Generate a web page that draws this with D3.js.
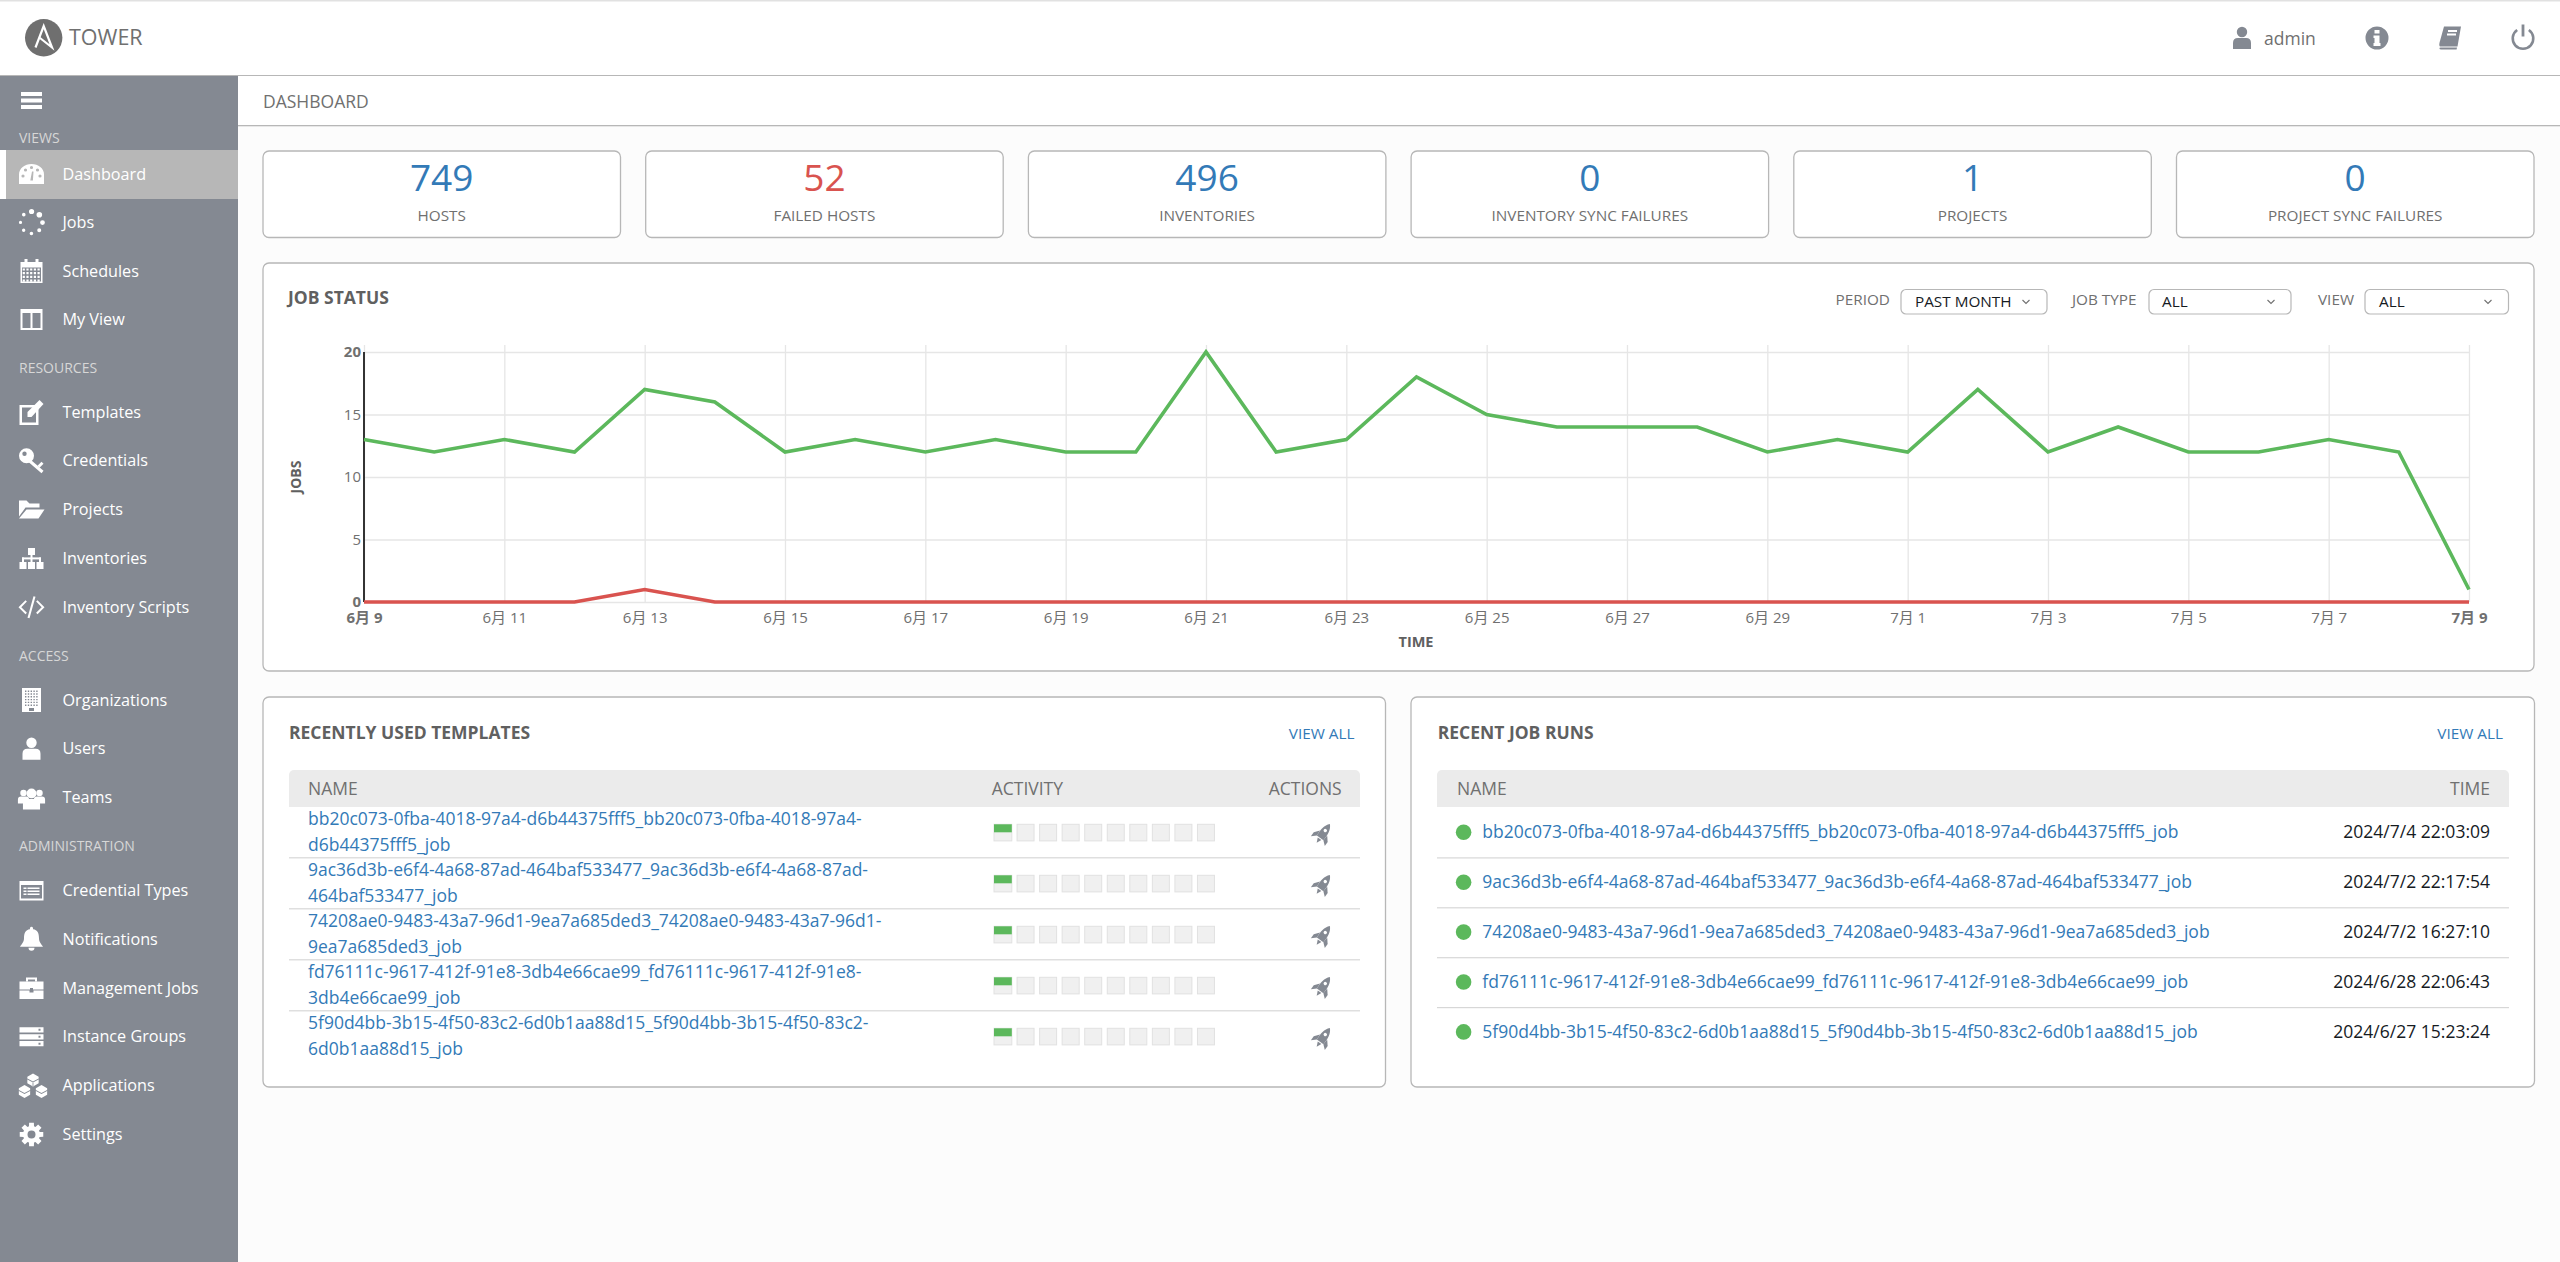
<!DOCTYPE html>
<html>
<head>
<meta charset="utf-8">
<title>Tower Dashboard</title>
<script src="https://cdn.jsdelivr.net/npm/d3@7"></script>
<style>
html, body { margin: 0; padding: 0; background: #fcfcfc; overflow: hidden; }
svg { display: block; }
text { font-family: "Open Sans", "Noto Sans CJK SC", sans-serif; fill: #707070; }
.nav { fill: #fff; font-size: 16.2px; }
.navhead { fill: #d7d7d7; font-size: 14px; }
.link { fill: #337ab7; font-size: 17.5px; }
.panel { fill: #fff; stroke: #b7b7b7; stroke-width: 1.3; }
.axis text { font-size: 15px; fill: #707070; }
.axis line { stroke: #e6e6e6; stroke-width: 1.3; }
.axis .domain { display: none; }
</style>
</head>
<body>
<div id="canvas"></div>
<script>
// chart data
var dayLabels = ["06-09", "06-10", "06-11", "06-12", "06-13", "06-14", "06-15", "06-16", "06-17", "06-18", "06-19",
    "06-20", "06-21", "06-22", "06-23", "06-24", "06-25", "06-26", "06-27", "06-28", "06-29", "06-30",
    "07-01", "07-02", "07-03", "07-04", "07-05", "07-06", "07-07", "07-08", "07-09"];
var successJobs = [13, 12, 13, 12, 17, 16, 12, 13, 12, 13, 12, 12, 20, 12, 13, 18, 15, 14, 14, 14, 12, 13, 12, 17, 12, 14, 12, 12, 13, 12, 1];
var failedJobs = [0, 0, 0, 0, 1, 0, 0, 0, 0, 0, 0, 0, 0, 0, 0, 0, 0, 0, 0, 0, 0, 0, 0, 0, 0, 0, 0, 0, 0, 0, 0];
var yTicks = [0, 5, 10, 15, 20];

var countLabels = ["HOSTS", "FAILED HOSTS", "INVENTORIES", "INVENTORY SYNC FAILURES", "PROJECTS", "PROJECT SYNC FAILURES"];
var countValues = [749, 52, 496, 0, 1, 0];

var jobIds = ["bb20c073-0fba-4018-97a4-d6b44375fff5", "9ac36d3b-e6f4-4a68-87ad-464baf533477",
    "74208ae0-9483-43a7-96d1-9ea7a685ded3", "fd76111c-9617-412f-91e8-3db4e66cae99",
    "5f90d4bb-3b15-4f50-83c2-6d0b1aa88d15"];
var jobTimes = ["2024/7/4 22:03:09", "2024/7/2 22:17:54", "2024/7/2 16:27:10", "2024/6/28 22:06:43", "2024/6/27 15:23:24"];
var activitySlots = [1, 0, 0, 0, 0, 0, 0, 0, 0, 0];

var navViews = ["Dashboard", "Jobs", "Schedules", "My View"];
var navResources = ["Templates", "Credentials", "Projects", "Inventories", "Inventory Scripts"];
var navAccess = ["Organizations", "Users", "Teams"];
var navAdmin = ["Credential Types", "Notifications", "Management Jobs", "Instance Groups", "Applications", "Settings"];

var GREY = "#848992";

// little shape helpers for the icons
function circ(x, y, r) {
    return "M" + (x - r) + " " + y + "a" + r + " " + r + " 0 1 0 " + (2 * r) + " 0a" + r + " " + r + " 0 1 0 " + (-2 * r) + " 0Z";
}
function box(x, y, w, h) {
    return "M" + x + " " + y + "h" + w + "v" + h + "h" + (-w) + "Z";
}
function person(x, y, s) {
    return "M" + (x - 9 * s) + " " + (y + 11 * s) + "v" + (-6 * s) + "q0 " + (-5 * s) + " " + (5 * s) + " " + (-5 * s) +
        "h" + (8 * s) + "q" + (5 * s) + " 0 " + (5 * s) + " " + (5 * s) + "v" + (6 * s) + "Z" + circ(x, y - 6 * s, 5.2 * s);
}
function hex(x, y, r) {
    return "M" + x + " " + (y - r) + "l" + (r * 0.87) + " " + (r * 0.5) + "v" + r + "l" + (-r * 0.87) + " " + (r * 0.5) +
        "l" + (-r * 0.87) + " " + (-r * 0.5) + "v" + (-r) + "Z";
}
function grid(x, y, cols, rows, w, step) {
    var s = "";
    d3.range(rows).forEach(function(r) {
        d3.range(cols).forEach(function(c) { s += box(x + c * step, y + r * step, w, w); });
    });
    return s;
}
function spinner() {
    var sizes = [2.6, 2.8, 2.4, 2, 1.8, 1.7, 1.6, 1.8];
    return sizes.map(function(r, i) {
        var a = i * Math.PI / 4 - Math.PI / 8 + 0.4;
        return circ(11 * Math.sin(a), -11 * Math.cos(a), r);
    }).join("");
}
function gear() {
    var pts = [];
    d3.range(8).forEach(function(i) {
        var a = i * Math.PI / 4;
        [[-0.3, 8.5], [-0.2, 12], [0.2, 12], [0.3, 8.5]].forEach(function(p) {
            pts.push((p[1] * Math.sin(a + p[0])) + " " + (-p[1] * Math.cos(a + p[0])));
        });
    });
    return "M" + pts.join("L") + "Z" + circ(0, 0, 4);
}
function power() {
    return d3.arc()({ innerRadius: 9, outerRadius: 11.6, startAngle: 0.6, endAngle: 2 * Math.PI - 0.6 }) + box(-1.4, -14, 2.8, 12);
}

var icons = {
    "bars": [box(-10.5, -8.5, 21, 4) + box(-10.5, -2, 21, 4) + box(-10.5, 4.5, 21, 4)],
    "Dashboard": ["M-12.5 9.5V0A12.5 10.5 0 0 1 12.5 0V9.5Z" + circ(-8.5, 1.5, 1.6) + circ(-6, -4.5, 1.6) + circ(0, -7, 1.6) + circ(6, -4.5, 1.6) + circ(8.5, 1.5, 1.6) + "M-1.2 6L0.5 -3L2 -3L1.4 6Z"],
    "Jobs": [spinner()],
    "Schedules": [box(-11, -9, 22, 21) + box(-9.5, -3.5, 19, 14), box(-7, -12, 3, 6) + box(4, -12, 3, 6), grid(-8.8, -2.6, 5, 4, 2.2, 3.7)],
    "My View": [box(-11, -10.5, 22, 21) + box(-9, -6.5, 8, 15) + box(1, -6.5, 8, 15)],
    "Templates": [box(-12, -7, 19, 20) + box(-9.5, -4.5, 14, 15), "M-4 5L-4 0L8 -12L12 -8L0 5Z"],
    "Credentials": [circ(-5, -5, 7.5) + circ(-7, -7, 2.2), "M-2 -2L12 10L10 12.5L-4.5 0Z", "M6 5L10 1L12 3L8 7Z"],
    "Projects": ["M-12.5 -9H-5L-2 -6H8V-2H-6L-12.5 7Z", "M-5 0H13L7 9H-12.5Z"],
    "Inventories": [box(-3.5, -10.5, 7, 7) + box(-12, 3.5, 7, 7) + box(-3.5, 3.5, 7, 7) + box(5, 3.5, 7, 7), box(-1, -4, 2, 8), box(-9.5, -1, 19, 2) , box(-9.5, -1, 2, 5), box(7.5, -1, 2, 5)],
    "Inventory Scripts": ["M-6 -7L-13 0L-6 7L-4.6 5.6L-10.2 0L-4.6 -5.6Z", "M6 -7L13 0L6 7L4.6 5.6L10.2 0L4.6 -5.6Z", "M2 -11L4 -10.5L-2 11L-4 10.5Z"],
    "Organizations": [box(-9.5, -12, 19, 24) + grid(-6.5, -9.5, 5, 6, 1.4, 2.8) + box(-2.5, 8, 5, 3)],
    "Users": [person(0, 0, 1)],
    "Teams": [person(-8, -1, 0.62), person(8, -1, 0.62), person(0, 1.5, 0.95)],
    "Credential Types": [box(-12, -9.5, 24, 19.5) + box(-10.5, -5.5, 21, 13.5), box(-8, -3, 3, 1.6) + box(-8, 0, 3, 1.6) + box(-8, 3, 3, 1.6) + box(-4, -3, 12, 1.6) + box(-4, 0, 12, 1.6) + box(-4, 3, 12, 1.6)],
    "Notifications": ["M0 -12.5C1.6 -12.5 1.6 -10.5 1.6 -10C6 -9.5 7.5 -6 7.5 -1C7.5 3 10 5 11.5 7.5H-11.5C-10 5 -7.5 3 -7.5 -1C-7.5 -6 -6 -9.5 -1.6 -10C-1.6 -10.5 -1.6 -12.5 0 -12.5Z", "M-3 8.5H3A3 3 0 0 1 -3 8.5Z"],
    "Management Jobs": [box(-12, -6.5, 24, 8) + box(-1.5, 0, 3, 1.5), box(-12, 2.5, 24, 8.5) + box(-2, 2.5, 4, 2), "M-5.5 -6.5V-10.5H5.5V-6.5H3.5V-8.5H-3.5V-6.5Z"],
    "Instance Groups": [box(-12, -9.5, 24, 5.2) + box(7, -8, 2, 2), box(-12, -2.6, 24, 5.2) + box(7, -1, 2, 2), box(-12, 4.3, 24, 5.2) + box(7, 6, 2, 2)],
    "Applications": [hex(2, -5.5, 6.5) + "M-3.6 -7L2 -4L7.6 -7L7.6 -6.2L2 -3.2L-3.6 -6.2Z" + "M1.6 -3.4H2.4V1.5H1.6Z",
        hex(-6.5, 6, 6.5) + "M-12.1 4.5L-6.5 7.5L-0.9 4.5L-0.9 5.3L-6.5 8.3L-12.1 5.3Z",
        hex(10.5, 6, 6.5) + "M4.9 4.5L10.5 7.5L16.1 4.5L16.1 5.3L10.5 8.3L4.9 5.3Z"],
    "Settings": [gear()],
    "user": [person(0, 0, 1)],
    "info": [circ(0, 0, 11.5) + box(-2.5, -8, 5, 3.6) + "M-3.5 -2.5H2.5V5H3.5V8H-3.5V5H-2.5V0H-3.5Z"],
    "book": ["M-6 -11.5H11L7.5 8.5H-9.5C-11 8.5 -11 6 -10 3Z" + box(-2, -8, 9, 2) + box(-3, -4.5, 9, 2), "M-9.5 9.5H7L6.6 11.5H-9C-11 11.5 -11 9.5 -9.5 9.5Z"],
    "power": [power()],
    "rocket": ["M0 -12C4 -8 4.6 -2 4 5H-4C-4.6 -2 -4 -8 0 -12Z" + circ(0, -4, 1.7), "M-4.4 -1L-8.5 4L-8.5 9L-4 5Z", "M4.4 -1L8.5 4L8.5 9L4 5Z", "M-2.2 6H2.2L0 11Z"]
};

function drawIcon(parent, name, x, y, color, rotate) {
    var g = parent.append("g")
        .attr("transform", "translate(" + x + "," + y + ")" + (rotate ? " rotate(" + rotate + ")" : ""));
    g.selectAll("path").data(icons[name]).enter().append("path")
        .attr("d", function(d) { return d; })
        .attr("fill", color)
        .attr("fill-rule", "evenodd");
    return g;
}

function addText(parent, x, y, str, size, anchor, color, weight) {
    var t = parent.append("text")
        .attr("x", x)
        .attr("y", y)
        .attr("dy", "0.35em")
        .attr("font-size", size)
        .attr("text-anchor", anchor || "start")
        .text(str);
    if (color) t.style("fill", color);
    if (weight) t.attr("font-weight", weight);
    return t;
}

function addPanel(parent, x, y, w, h) {
    return parent.append("rect")
        .attr("class", "panel")
        .attr("x", x).attr("y", y)
        .attr("width", w).attr("height", h)
        .attr("rx", 6);
}

function init() {
    var svg = d3.select("#canvas").append("svg")
        .attr("width", 2560)
        .attr("height", 1262);
    svg.append("rect").attr("width", 2560).attr("height", 1262).attr("fill", "#fcfcfc");

    drawHeader(svg);
    drawSidebar(svg);
    drawCounts(svg);
    drawJobStatus(svg);
    drawTemplates(svg);
    drawJobRuns(svg);
}

function drawHeader(svg) {
    svg.append("rect").attr("width", 2560).attr("height", 76).attr("fill", "#fff");
    svg.append("rect").attr("width", 2560).attr("height", 1.5).attr("fill", "#e1e1e1");
    svg.append("rect").attr("y", 75).attr("width", 2560).attr("height", 1.3).attr("fill", "#b7b7b7");
    svg.append("rect").attr("x", 238).attr("y", 76).attr("width", 2322).attr("height", 49).attr("fill", "#fff");
    svg.append("rect").attr("x", 238).attr("y", 125).attr("width", 2322).attr("height", 1.3).attr("fill", "#b7b7b7");

    // logo
    svg.append("circle").attr("cx", 43.7).attr("cy", 37.8).attr("r", 18.7).attr("fill", "#6f6f6f");
    svg.append("path").attr("d", "M35.5 47.5L43.7 26L52 47.5L40 38")
        .attr("fill", "none").attr("stroke", "#fff").attr("stroke-width", 2.2);
    addText(svg, 69, 37.5, "TOWER", 21.5, "start", "#707070");

    addText(svg, 263, 101.5, "DASHBOARD", 17.5, "start", "#707070");

    drawIcon(svg, "user", 2242, 38, GREY);
    addText(svg, 2264, 38.5, "admin", 17.5, "start", "#707070");
    drawIcon(svg, "info", 2377, 38, GREY);
    drawIcon(svg, "book", 2450, 38, GREY);
    drawIcon(svg, "power", 2523, 38.5, GREY);
}

function drawSidebar(svg) {
    var side = svg.append("g");
    side.append("rect").attr("y", 76).attr("width", 238).attr("height", 1186).attr("fill", GREY);
    side.append("rect").attr("x", 6).attr("y", 150).attr("width", 232).attr("height", 49).attr("fill", "#b7b7b7");
    side.append("rect").attr("y", 150).attr("width", 6).attr("height", 49).attr("fill", "#fff");
    drawIcon(side, "bars", 31.5, 100.5, "#fff");

    var groups = [["VIEWS", navViews], ["RESOURCES", navResources], ["ACCESS", navAccess], ["ADMINISTRATION", navAdmin]];
    var y = 138;
    groups.forEach(function(group, gi) {
        side.append("text").attr("class", "navhead").attr("x", 19).attr("y", y).attr("dy", "0.35em").text(group[0]);
        y += gi === 0 ? 36 : 44;
        group[1].forEach(function(name) {
            side.append("text").attr("class", "nav").attr("x", 62.5).attr("y", y).attr("dy", "0.35em").text(name);
            drawIcon(side, name, name === "Applications" ? 31 : 31.5, y + (name === "Dashboard" ? 0.5 : 0), "#fff");
            y += gi === 0 ? 48.5 : 48.8;
        });
    });
}

function drawCounts(svg) {
    countLabels.forEach(function(name, i) {
        var x0 = 263 + i * 382.7;
        addPanel(svg, x0, 151, 357.5, 86.5);
        addText(svg, x0 + 178.7, 178.5, countValues[i], 37, "middle", name === "FAILED HOSTS" ? "#d9534f" : "#337ab7");
        addText(svg, x0 + 178.7, 215.5, name, 15.3, "middle", "#707070");
    });
}

function drawSelect(svg, x0, x1, textX, chevX, str) {
    svg.append("rect").attr("x", x0).attr("y", 289.5).attr("width", x1 - x0).attr("height", 24.5).attr("rx", 5)
        .attr("fill", "#fff").attr("stroke", "#b7b7b7").attr("stroke-width", 1.2);
    addText(svg, textX, 301.5, str, 15.3, "start", "#161b1f");
    svg.append("path").attr("d", "M" + (chevX - 3.5) + " 300l3.5 3.5l3.5 -3.5")
        .attr("fill", "none").attr("stroke", "#707070").attr("stroke-width", 1.1);
}

function drawJobStatus(svg) {
    addPanel(svg, 263, 263, 2271, 408);
    addText(svg, 288, 298, "JOB STATUS", 17.5, "start", "#606060", 700);

    addText(svg, 1835.5, 299.5, "PERIOD", 15.3, "start", "#707070");
    drawSelect(svg, 1901, 2047, 1915, 2026, "PAST MONTH");
    addText(svg, 2072, 299.5, "JOB TYPE", 15.3, "start", "#707070");
    drawSelect(svg, 2149, 2291, 2162, 2271, "ALL");
    addText(svg, 2318, 299.5, "VIEW", 15.3, "start", "#707070");
    drawSelect(svg, 2365, 2508.5, 2379, 2488, "ALL");

    var left = 364, right = 2469, top = 352, bottom = 602;
    var x = d3.scalePoint().domain(dayLabels).range([left, right]);
    var y = d3.scaleLinear().domain([0, 20]).range([bottom, top]);

    var xTicks = dayLabels.filter(function(d, i) { return i % 2 === 0; });
    var xAxis = d3.axisBottom(x)
        .tickValues(xTicks)
        .tickSizeInner(-(bottom - 345))
        .tickSizeOuter(0)
        .tickPadding(10)
        .tickFormat(function(d) {
            var p = d.split("-");
            return (+p[0]) + "月 " + (+p[1]);
        });
    var yAxis = d3.axisLeft(y)
        .tickValues(yTicks)
        .tickSizeInner(-(right - left))
        .tickSizeOuter(0)
        .tickPadding(3);

    var gx = svg.append("g").attr("class", "axis")
        .attr("transform", "translate(0," + bottom + ")")
        .call(xAxis);
    var gy = svg.append("g").attr("class", "axis")
        .attr("transform", "translate(" + left + ",0)")
        .call(yAxis);
    gx.selectAll(".tick text").attr("font-weight", function(d, i) { return i === 0 || i === xTicks.length - 1 ? 700 : 400; });
    gy.selectAll(".tick text").attr("font-weight", function(d) { return d === 0 || d === 20 ? 700 : 400; });

    svg.append("line").attr("x1", left).attr("x2", left).attr("y1", top).attr("y2", bottom)
        .attr("stroke", "#333").attr("stroke-width", 2);

    var line = d3.line()
        .x(function(d, i) { return x(dayLabels[i]); })
        .y(function(d) { return y(d); });
    svg.append("path").datum(successJobs).attr("d", line)
        .attr("fill", "none").attr("stroke", "#5cb85c").attr("stroke-width", 3.6);
    svg.append("path").datum(failedJobs).attr("d", line)
        .attr("fill", "none").attr("stroke", "#d9534f").attr("stroke-width", 3.6);

    addText(svg, 1416, 642, "TIME", 14.5, "middle", "#606060", 700);
    addText(svg, 0, 0, "JOBS", 14, "middle", "#606060", 700)
        .attr("transform", "translate(296,477) rotate(-90)");
}

function tableHead(svg, x0, x1) {
    svg.append("path")
        .attr("d", "M" + x0 + " 807V775a5 5 0 0 1 5 -5H" + (x1 - 5) + "a5 5 0 0 1 5 5V807Z")
        .attr("fill", "#ebebeb");
}

function drawTemplates(svg) {
    addPanel(svg, 263, 697, 1122.5, 390);
    addText(svg, 289, 732.5, "RECENTLY USED TEMPLATES", 17.5, "start", "#606060", 700);
    addText(svg, 1354.5, 733.5, "VIEW ALL", 15.3, "end", "#337ab7");
    tableHead(svg, 289, 1360);
    addText(svg, 308, 788.5, "NAME", 17.5, "start", "#707070");
    addText(svg, 991.7, 788.5, "ACTIVITY", 17.5, "start", "#707070");
    addText(svg, 1341.7, 788.5, "ACTIONS", 17.5, "end", "#707070");

    var rowH = 51, firstRow = 806.8;
    var slot = d3.scaleBand().domain(d3.range(activitySlots.length)).range([994, 994 + 22.55 * activitySlots.length]);
    jobIds.forEach(function(id, i) {
        var rowTop = firstRow + i * rowH;
        var name = id + "_" + id + "_job";
        var cut = id.lastIndexOf("-") + 1 + id.length + 1;
        svg.append("text").attr("class", "link").attr("x", 308).attr("y", rowTop + 12.5).attr("dy", "0.35em").text(name.slice(0, cut));
        svg.append("text").attr("class", "link").attr("x", 308).attr("y", rowTop + 38).attr("dy", "0.35em").text(name.slice(cut));
        if (i < jobIds.length - 1) {
            svg.append("rect").attr("x", 289).attr("y", rowTop + rowH - 0.6).attr("width", 1071).attr("height", 1.2).attr("fill", "#d7d7d7");
        }
        activitySlots.forEach(function(v, k) {
            var bx = slot(k) + (k === 0 ? 0 : 0.5), bw = k === 0 ? 17.8 : 17;
            svg.append("rect").attr("x", bx).attr("y", rowTop + 17.5).attr("width", bw).attr("height", 16.6)
                .attr("fill", "#f0f0f0").attr("stroke", "#e1e1e1");
            if (v) {
                svg.append("rect").attr("x", bx).attr("y", rowTop + 17.5).attr("width", bw).attr("height", 8)
                    .attr("fill", "#5cb85c");
            }
        });
        drawIcon(svg, "rocket", 1323, rowTop + 27, GREY, 35);
    });
}

function drawJobRuns(svg) {
    addPanel(svg, 1411, 697, 1123.5, 390);
    addText(svg, 1437.7, 732.5, "RECENT JOB RUNS", 17.5, "start", "#606060", 700);
    addText(svg, 2503, 733.5, "VIEW ALL", 15.3, "end", "#337ab7");
    tableHead(svg, 1437, 2509);
    addText(svg, 1457, 788.5, "NAME", 17.5, "start", "#707070");
    addText(svg, 2490, 788.5, "TIME", 17.5, "end", "#707070");

    var rowH = 49.9, firstRow = 806.8;
    jobIds.forEach(function(id, i) {
        var mid = firstRow + 25.5 + i * rowH;
        svg.append("circle").attr("cx", 1463.6).attr("cy", mid).attr("r", 7.8).attr("fill", "#5cb85c");
        svg.append("text").attr("class", "link").attr("x", 1482.3).attr("y", mid).attr("dy", "0.35em").text(id + "_" + id + "_job");
        addText(svg, 2490, mid, jobTimes[i], 17.5, "end", "#161b1f");
        if (i < jobIds.length - 1) {
            svg.append("rect").attr("x", 1437).attr("y", firstRow + 50.5 + i * rowH).attr("width", 1072).attr("height", 1.2).attr("fill", "#d7d7d7");
        }
    });
}

window.onload = init();
</script>
</body>
</html>
